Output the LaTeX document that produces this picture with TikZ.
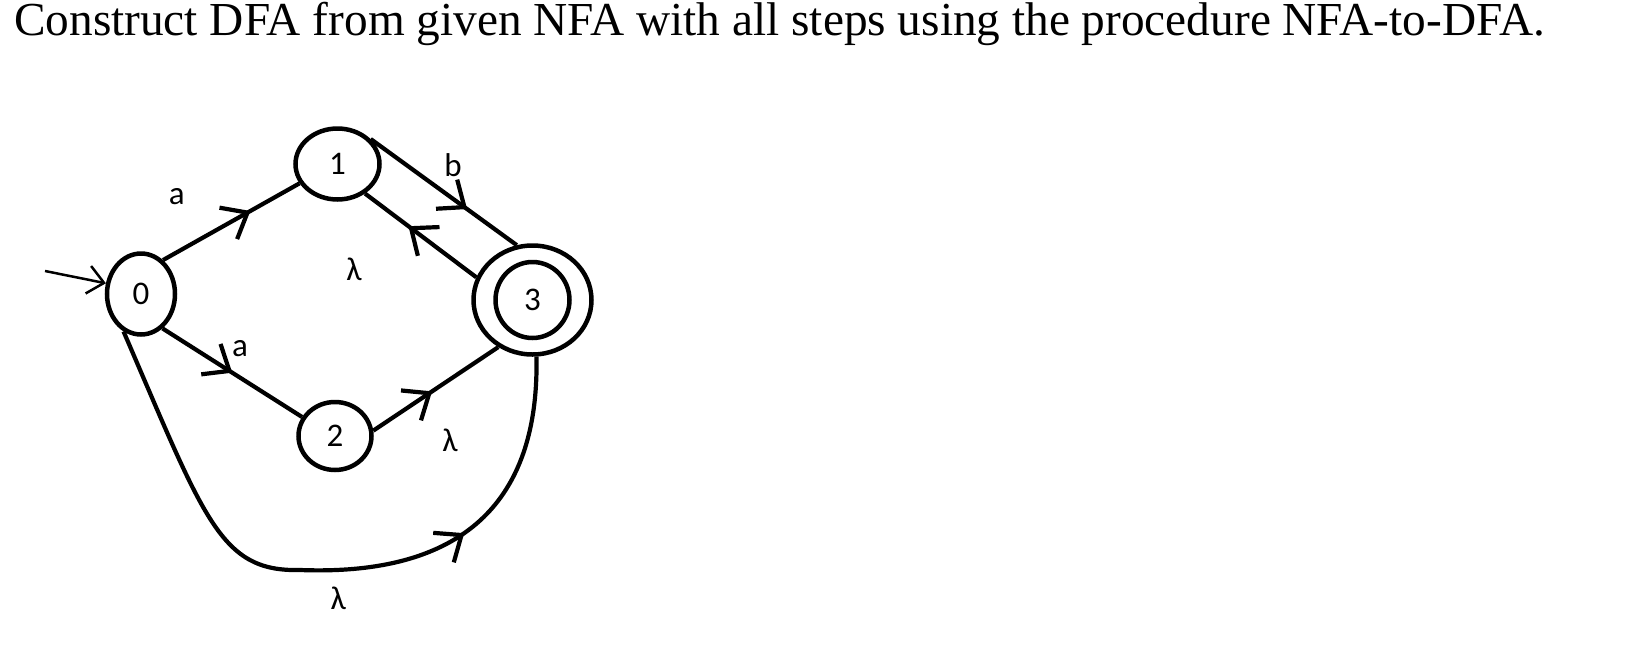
\documentclass[tikz,border=0pt]{standalone}
\usepackage{fontspec}
\setmainfont{Liberation Serif}
\newfontfamily\statefont{Carlito}
\usetikzlibrary{shapes.geometric,arrows.meta,positioning,decorations.markings}

\tikzset{
  state/.style={draw, ellipse, line width=4.5pt, inner sep=0pt,
    font=\statefont\fontsize{33}{33}\selectfont},
  lbl/.style={inner sep=0pt, font=\statefont\fontsize{33}{33}\selectfont},
  trans/.style={line width=4.2pt},
  midarrow/.style={postaction={decorate}, decoration={markings,
    mark=at position #1 with {\arrow{Straight Barb[length=22pt,width=36pt]}}}}
}

\begin{document}
\begin{tikzpicture}[x=1pt,y=-1pt]
    \useasboundingbox (0,0) rectangle (1634,646);

    % Question
    \node[anchor=base west, inner sep=0pt, font=\fontsize{47.3}{50}\selectfont] (title) at (14,35)
        {Construct DFA from given NFA with all steps using the procedure NFA-to-DFA.};

    % States
    \node[state, minimum width=68pt, minimum height=81pt] (n0) at (141,294) {0};
    \node[state, minimum width=84pt, minimum height=71pt] (n1) at (337.5,164) {1};
    \node[state, minimum width=73pt, minimum height=68pt] (n2) at (335,436) {2};
    \node[state, minimum width=118pt, minimum height=109pt] (n3) at (532.5,300) {3};
    \draw[line width=4.5pt] (n3.center) ellipse [x radius=37, y radius=38];

    % Start
    \coordinate (start) at (45,271);
    \draw[line width=2.5pt, -{Straight Barb[length=16pt,width=28pt]}] (start) -- (n0.163);

    % Transitions
    \draw[trans, midarrow=0.64] (n0.57) -- (n1.207);
    \draw[trans, midarrow=0.5] (n0.302) -- (n2.150);
    \draw[trans, midarrow=0.47] (n2.8) -- (n3.234);
    \draw[trans, midarrow=0.66] (n1.37) -- (n3.106);
    \draw[trans, midarrow=0.61] (n3.158) -- (n1.313);
    \draw[trans, midarrow=0.71] (n0.245) .. controls (205,520) and (220,572) .. (300,570)
        .. controls (430,575) and (540,530) .. (n3.274);

    % Labels
    \node[lbl] (la01) at (176.7,196.7) {a};
    \node[lbl] (lb13) at (453,165) {b};
    \node[lbl] (ll31) at (354,269) {λ};
    \node[lbl] (la02) at (240,348.3) {a};
    \node[lbl] (ll23) at (450,440) {λ};
    \node[lbl] (ll03) at (338.3,598.3) {λ};
\end{tikzpicture}
\end{document}
